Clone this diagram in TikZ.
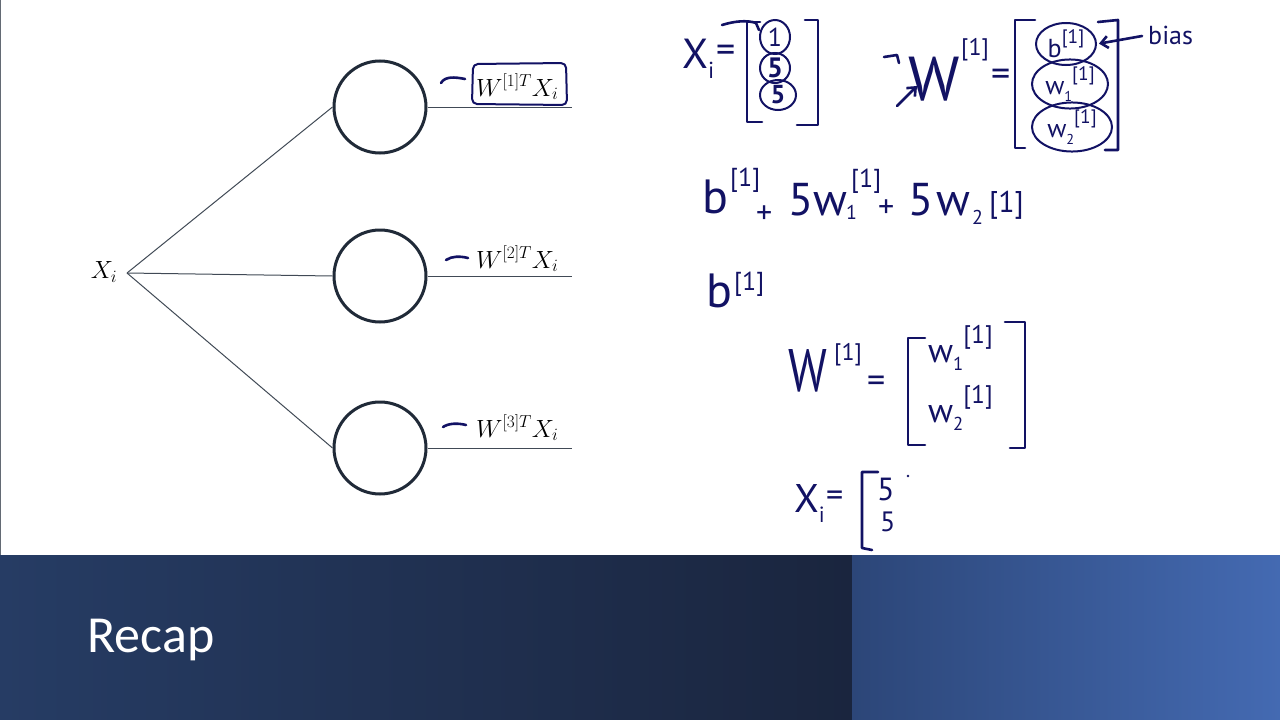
\documentclass[tikz,border=0pt]{standalone}
\usepackage{fontspec}
\usepackage{graphicx}
\newfontfamily\titlefont{Carlito}
\newfontfamily\handfont{PT Sans}
\usetikzlibrary{positioning,shapes.geometric,arrows.meta}
\definecolor{ink}{RGB}{18,18,100}
\definecolor{netline}{RGB}{32,42,56}
\definecolor{bandL}{RGB}{38,60,100}
\definecolor{bandLd}{RGB}{26,37,62}
\definecolor{bandR}{RGB}{44,70,120}
\definecolor{bandRl}{RGB}{68,106,178}
\newcommand{\hsub}[1]{\raisebox{-0.25em}{\scalebox{0.55}{#1}}}
\newcommand{\hsup}[1]{\raisebox{0.55em}{\scalebox{0.75}{#1}}}
\tikzset{>={Straight Barb[length=7pt,width=12pt]},
  neuron/.style={draw=netline, line width=3pt, circle, minimum size=92pt, inner sep=0pt},
  wire/.style={draw=netline!85, line width=1pt},
  netlbl/.style={font=\fontsize{26}{26}\selectfont, inner sep=0pt},
  hw/.style={text=ink, font=\handfont\fontsize{#1}{#1}\selectfont, inner sep=0pt, anchor=base west},
  hw/.default=40,
  inkline/.style={draw=ink, line width=2.6pt, line cap=round, line join=round},
  ringed/.style={draw=ink, line width=2pt, ellipse, inner sep=0pt, text=ink,
    font=\handfont\fontsize{26}{26}\selectfont},
}
\begin{document}
\begin{tikzpicture}[x=1pt,y=-1pt]
    \useasboundingbox (0,0) rectangle (1280,720);
    \fill[white] (0,0) rectangle (1280,555);
    \draw[netline!70, line width=1pt] (0.5,0) -- (0.5,555);

    % title band
    \shade[left color=bandL, right color=bandLd] (0,555) rectangle (852,720);
    \shade[left color=bandR, right color=bandRl] (852,555) rectangle (1280,720);
    \node [text=white, font=\titlefont\fontsize{52}{52}\selectfont, anchor=base west] (title) at (84,652) {Recap};

    % network
    \node [netlbl] (xi) at (104,272) {$X_i$};
    \coordinate (fan) at (127,273);
    \node [neuron] (h1) at (380,107) {};
    \node [neuron] (h2) at (380,276) {};
    \node [neuron] (h3) at (380,448) {};
    \foreach \n/\y in {1/107,2/276,3/448} {
        \coordinate (o\n) at (572,\y);
        \draw [wire] (fan) -- (h\n.west);
        \draw [wire] (h\n.east) -- (o\n);
    }
    \node [netlbl, anchor=base west] (w1) at (476,96) {$W^{[1]T}X_i$};
    \node [netlbl, anchor=base west] (w2) at (476,268) {$W^{[2]T}X_i$};
    \node [netlbl, anchor=base west] (w3) at (476,437) {$W^{[3]T}X_i$};

    % pen marks on the network
    \draw [inkline, rounded corners=5pt, line width=2pt] (473,64) -- (566,63) -- (567,105) -- (472,104) -- cycle;
    \draw [inkline] (441,83) .. controls (445,76) and (455,77) .. (465,79);
    \draw [inkline] (446,260) .. controls (452,256) and (460,256) .. (468,258);
    \draw [inkline] (443,427) .. controls (449,423) and (458,423) .. (466,425);

    % X_i = [1 5 5]
    \node [hw=42] (hxa) at (682,68) {X\hsub{i}};
    \node [hw=38] (heqa) at (716,62) {=};
    \draw [inkline] (722,25) .. controls (735,21) and (747,20) .. (756,23) -- (759,30);
    \draw [inkline] (760,22) -- (747,22) -- (747,122) -- (762,122);
    \draw [inkline] (805,20) -- (818,20) -- (818,125) -- (797,125);
    \node [ringed, minimum width=30pt, minimum height=34pt] (ea1) at (775,37) {1};
    \node [ringed, minimum width=30pt, minimum height=30pt, font=\handfont\bfseries\fontsize{28}{28}\selectfont] (ea2) at (775,68) {5};
    \node [ringed, minimum width=36pt, minimum height=30pt, font=\handfont\bfseries\fontsize{26}{26}\selectfont] (ea3) at (778,95) {5};

    % W = [b w1 w2]
    \draw [inkline] (884,57) -- (897,55) -- (899,63);
    \coordinate (pa) at (897,106);
    \coordinate (pb) at (917,86);
    \draw [inkline, ->] (pa) -- (pb);
    \node [hw=62] (hwb) at (908,100) {W};
    \node [hw=24] (hwbs) at (961,55) {[1]};
    \node [hw=38] (heqb) at (991,86) {=};
    \draw [inkline] (1035,20) -- (1015,20) -- (1015,148) -- (1025,148);
    \draw [inkline] (1098,22) -- (1118,20) -- (1118,150) -- (1105,150);
    \node [ringed, minimum width=60pt, minimum height=42pt] (eb) at (1066,44) {b\hsup{[1]}};
    \node [ringed, minimum width=76pt, minimum height=48pt] (ew1) at (1070,84) {w\hsub{1}\hsup{[1]}};
    \node [ringed, minimum width=80pt, minimum height=42pt] (ew2) at (1072,127) {w\hsub{2}\hsup{[1]}};
    \node [hw=26] (bias) at (1148,44) {bias};
    \draw [inkline, ->, shorten <=6pt, shorten >=2pt] (bias.west) -- (eb.east);

    % b + 5w1 + 5w2
    \node [hw=48] (cb) at (702,213) {b};
    \node [hw=26] (cbs) at (730,186) {[1]};
    \node [hw=32] (cp1) at (756,223) {+};
    \node [hw=46] (c5a) at (788,215) {5w};
    \node [hw=20] (c5as) at (846,219) {1};
    \node [hw=26] (c5au) at (851,187) {[1]};
    \node [hw=32] (cp2) at (878,217) {+};
    \node [hw=46] (c5b) at (908,215) {5\hspace{3pt}w};
    \node [hw=20] (c5bs) at (972,224) {2};
    \node [hw=30] (c5bu) at (989,212) {[1]};

    % b
    \node [hw=48] (db) at (706,307) {b};
    \node [hw=26] (dbs) at (734,290) {[1]};

    % W = [w1 w2]
    \node [hw=60] (ew) at (788,391) {\scalebox{0.78}[1]{W}};
    \node [hw=24] (ews) at (834,360) {[1]};
    \node [hw=36] (eeq) at (867,392) {=};
    \draw [inkline] (925,338) -- (908,338) -- (908,445) -- (925,445);
    \draw [inkline] (1005,322) -- (1025,322) -- (1025,448) -- (1010,448);
    \node [hw=34] (ew1e) at (928,362) {w\hsub{1}\hsup{[1]}};
    \node [hw=34] (ew2e) at (928,422) {w\hsub{2}\hsup{[1]}};

    % X_i = [5 5
    \node [hw=40] (fx) at (794,512) {X\hsub{i}};
    \node [hw=34] (feq) at (826,506) {=};
    \draw [inkline] (878,472) -- (862,472) -- (862,548) -- (872,550);
    \node [hw=32] (f5a) at (877,500) {5};
    \node [hw=28] (f5b) at (880,531) {5};
    \fill [ink] (908,476) circle (1.3);
\end{tikzpicture}
\end{document}
